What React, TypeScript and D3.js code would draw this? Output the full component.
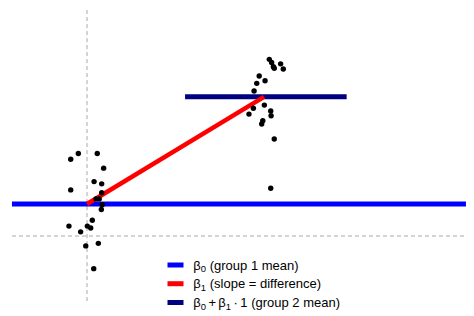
import React from "react";
import * as d3 from "d3";

const beta0 = 1.0;
const beta1 = 3.35;

const group1X = [-0.092, -0.049, 0.058, 0.094, -0.092, 0.04, 0.083, 0.083, 0.051, 0.069, 0.086, 0.081, 0.03, 0.002, 0.021, -0.102, -0.036, 0.064, -0.007, 0.038];
const group1Y = [2.4, 2.58, 2.58, 2.12, 1.44, 1.7, 1.63, 1.35, 1.16, 1.16, 0.98, 0.83, 0.49, 0.31, 0.25, 0.31, 0.13, -0.23, -0.31, -1.02];

const group2X = [1.03, 1.043, 1.053, 1.058, 1.094, 1.109, 0.973, 1.006, 0.959, 0.944, 0.94, 0.915, 1.002, 1.038, 1.04, 0.993, 0.987, 1.058, 1.038];
const group2Y = [5.52, 5.42, 5.29, 5.24, 5.38, 5.22, 5.0, 4.85, 4.77, 4.53, 3.99, 3.81, 4.09, 3.91, 3.76, 3.6, 3.5, 3.03, 1.49];

const legendLabels = ["(group 1 mean)", "(slope = difference)", "(group 2 mean)"];

const W = 474;
const H = 316;

export default function App() {
  const x = d3.scaleLinear().domain([0, 1]).range([87, 264]);
  const y = d3.scaleLinear().domain([0, 1]).range([236, 204]);

  const points = [
    ...group1X.map((v, i) => [v, group1Y[i]]),
    ...group2X.map((v, i) => [v, group2Y[i]]),
  ];

  const font = "'Liberation Sans', Arial, Helvetica, sans-serif";
  const legendX = 167.5;
  const legendY = [265, 283.7, 302.5];
  const colors = ["#0000ff", "#ff0000", "#000080"];

  const sub = (t: string) => (
    <tspan fontSize={9.5} dy={2.8}>{t}</tspan>
  );

  return (
    <svg
      width={W}
      height={H}
      style={{ position: "absolute", left: 0, top: 0, background: "#fff" }}
      fontFamily={font}
    >
      <rect x={0} y={0} width={W} height={H} fill="#fff" />
      <line
        x1={x(-0.424)} x2={x(2.13)} y1={y(0)} y2={y(0)}
        stroke="#a8a8a8" strokeWidth={1} strokeDasharray="4,3"
      />
      <line
        x1={x(0)} x2={x(0)} y1={y(7.06)} y2={y(-2.09)}
        stroke="#a8a8a8" strokeWidth={1} strokeDasharray="4,3"
      />
      <line
        x1={x(-0.424)} x2={x(2.141)} y1={y(beta0)} y2={y(beta0)}
        stroke={colors[0]} strokeWidth={5}
      />
      <line
        x1={x(0.554)} x2={x(1.467)} y1={y(beta0 + beta1)} y2={y(beta0 + beta1)}
        stroke={colors[2]} strokeWidth={5}
      />
      <line
        x1={x(0)} x2={x(1)} y1={y(beta0)} y2={y(beta0 + beta1)}
        stroke={colors[1]} strokeWidth={4.5}
      />
      {points.map((p, i) => (
        <circle key={i} cx={x(p[0])} cy={y(p[1])} r={2.7} fill="#000" />
      ))}
      {legendY.map((ly, i) => (
        <line key={i} x1={legendX} x2={legendX + 16} y1={ly} y2={ly} stroke={colors[i]} strokeWidth={5} />
      ))}
      <text x={193.3} y={legendY[0] + 4.6} fontSize={13} fill="#000">
        β{sub("0")}<tspan dy={-2.8}> {legendLabels[0]}</tspan>
      </text>
      <text x={193.3} y={legendY[1] + 4.6} fontSize={13} fill="#000">
        β{sub("1")}<tspan dy={-2.8}> {legendLabels[1]}</tspan>
      </text>
      <text x={193.3} y={legendY[2] + 4.6} fontSize={13} fill="#000">
        β{sub("0")}<tspan dy={-2.8} dx={2.5}>+</tspan><tspan dx={2}>β</tspan>{sub("1")}<tspan dy={-2.8} dx={2.5}>·</tspan><tspan dx={2.5}>1 {legendLabels[2]}</tspan>
      </text>
    </svg>
  );
}
